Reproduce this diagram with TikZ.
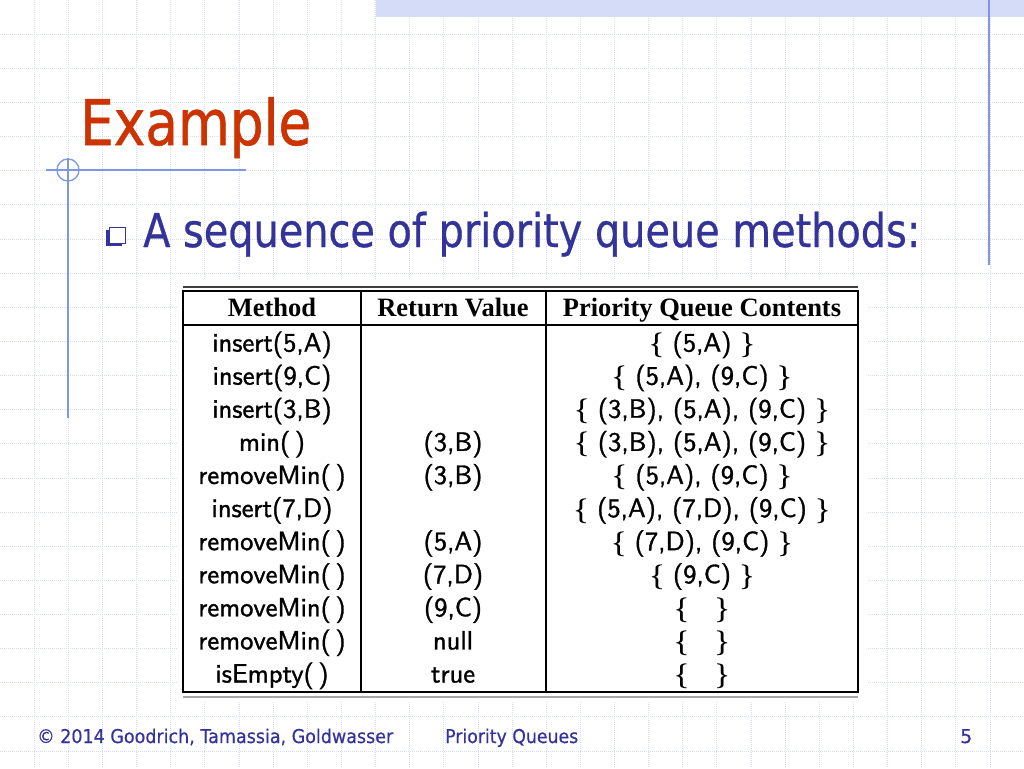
\documentclass[tikz,border=0pt]{standalone}
\usepackage{fontspec}
\usepackage{graphicx}
\newfontfamily\tah{DejaVu Sans}[FakeBold=1.0]
\newfontfamily\tahb{DejaVu Sans}[FakeBold=0.7]
\newfontfamily\tahft{DejaVu Sans}[FakeBold=0.5]
\newfontfamily\hdr{Liberation Serif}
\newfontfamily\bodyf{lmsans10-regular.otf}[FakeBold=1.2]
\definecolor{titlecol}{RGB}{204,51,0}
\definecolor{txtblue}{RGB}{51,51,153}
\definecolor{decocol}{RGB}{125,150,230}
\definecolor{gridcol}{RGB}{214,221,245}
\definecolor{bandcol}{RGB}{212,220,247}
\newcommand{\fitw}[2]{\resizebox{#1}{\height}{#2}}
\newcommand{\qlb}{{\boldmath$\{$}}
\newcommand{\qrb}{{\boldmath$\}$}}
\tikzset{
  gridline/.style={gridcol, line width=0.7pt, dash pattern=on 1pt off 1pt},
  deco/.style={decocol, line width=1.3pt},
  cell/.style={font=\fontsize{26.5}{28}\selectfont\bodyf, anchor=base, inner sep=0pt},
  head/.style={font=\fontsize{26.5}{28}\selectfont\hdr\bfseries, anchor=base, inner sep=0pt},
  rule/.style={black, line width=1.4pt},
}
\begin{document}
\begin{tikzpicture}[x=1pt,y=-1pt]
\useasboundingbox (0,0) rectangle (1024,768);
\fill[white] (0,0) rectangle (1024,768);
% grid
\foreach \i in {1,...,29} \draw[gridline] (\i*34.133,0) -- (\i*34.133,768);
\foreach \j in {1,...,22} \draw[gridline] (0,\j*34.133) -- (1024,\j*34.133);
% top band
\fill[bandcol] (376,0) rectangle (1024,17);
% decorations
\draw[deco] (989,0) -- (989,265);
\draw[deco] (46,170) -- (246,170);
\draw[deco] (68,158) -- (68,418);
\draw[deco] (68,170) circle (11);
% title
\node[anchor=base west, inner sep=0pt, text=titlecol] (title) at (80,145)
  {\fitw{231pt}{\fontsize{63}{70}\selectfont\tah Example}};
% bullet
\fill[txtblue] (106,230) rectangle (122,246);
\draw[txtblue, fill=white, line width=1pt] (109,227) rectangle (125,243);
\node[anchor=base west, inner sep=0pt, text=txtblue] (bullet) at (143,247)
  {\fitw{777pt}{\fontsize{46.5}{52}\selectfont\tahb A sequence of priority queue methods:}};
% table
\fill[white] (177,280) rectangle (868,702);
\draw[black!75, line width=1.5pt] (183,287) -- (858,287);
\draw[black!35, line width=2pt] (183,697) -- (858,697);
\draw[rule] (183,291) rectangle (858,692);
\draw[rule] (183,325) -- (858,325);
\draw[rule] (361,291) -- (361,692);
\draw[rule] (546,291) -- (546,692);
\node[head] (h1) at (272,316) {Method};
\node[head] (h2) at (453,316) {Return Value};
\node[head] (h3) at (702,316) {Priority Queue Contents};
% rows
\node[cell] (m1) at (272,351.5) {insert(5,A)};
\node[cell] (c1) at (702,351.5) {\qlb\ (5,A)\ \qrb};
\node[cell] (m2) at (272,384.6) {insert(9,C)};
\node[cell] (c2) at (702,384.6) {\qlb\ (5,A), (9,C)\ \qrb};
\node[cell] (m3) at (272,417.7) {insert(3,B)};
\node[cell] (c3) at (702,417.7) {\qlb\ (3,B), (5,A), (9,C)\ \qrb};
\node[cell] (m4) at (272,450.8) {min(\,)};
\node[cell] (r4) at (453,450.8) {(3,B)};
\node[cell] (c4) at (702,450.8) {\qlb\ (3,B), (5,A), (9,C)\ \qrb};
\node[cell] (m5) at (272,483.9) {removeMin(\,)};
\node[cell] (r5) at (453,483.9) {(3,B)};
\node[cell] (c5) at (702,483.9) {\qlb\ (5,A), (9,C)\ \qrb};
\node[cell] (m6) at (272,517.0) {insert(7,D)};
\node[cell] (c6) at (702,517.0) {\qlb\ (5,A), (7,D), (9,C)\ \qrb};
\node[cell] (m7) at (272,550.1) {removeMin(\,)};
\node[cell] (r7) at (453,550.1) {(5,A)};
\node[cell] (c7) at (702,550.1) {\qlb\ (7,D), (9,C)\ \qrb};
\node[cell] (m8) at (272,583.2) {removeMin(\,)};
\node[cell] (r8) at (453,583.2) {(7,D)};
\node[cell] (c8) at (702,583.2) {\qlb\ (9,C)\ \qrb};
\node[cell] (m9) at (272,616.3) {removeMin(\,)};
\node[cell] (r9) at (453,616.3) {(9,C)};
\node[cell] (c9) at (702,616.3) {\qlb\ \ \ \qrb};
\node[cell] (m10) at (272,649.4) {removeMin(\,)};
\node[cell] (r10) at (453,649.4) {null};
\node[cell] (c10) at (702,649.4) {\qlb\ \ \ \qrb};
\node[cell] (m11) at (272,682.5) {isEmpty(\,)};
\node[cell] (r11) at (453,682.5) {true};
\node[cell] (c11) at (702,682.5) {\qlb\ \ \ \qrb};
% footer
\node[anchor=base west, inner sep=0pt, text=txtblue] (copy) at (37,743)
  {\fitw{356pt}{\fontsize{19}{22}\selectfont\tahft \textcopyright\ 2014 Goodrich, Tamassia, Goldwasser}};
\node[anchor=base west, inner sep=0pt, text=txtblue] (topic) at (445,743)
  {\fitw{133pt}{\fontsize{19}{22}\selectfont\tahft Priority Queues}};
\node[anchor=base west, inner sep=0pt, text=txtblue] (page) at (960,743)
  {\fontsize{19}{22}\selectfont\tahft 5};
\end{tikzpicture}
\end{document}
